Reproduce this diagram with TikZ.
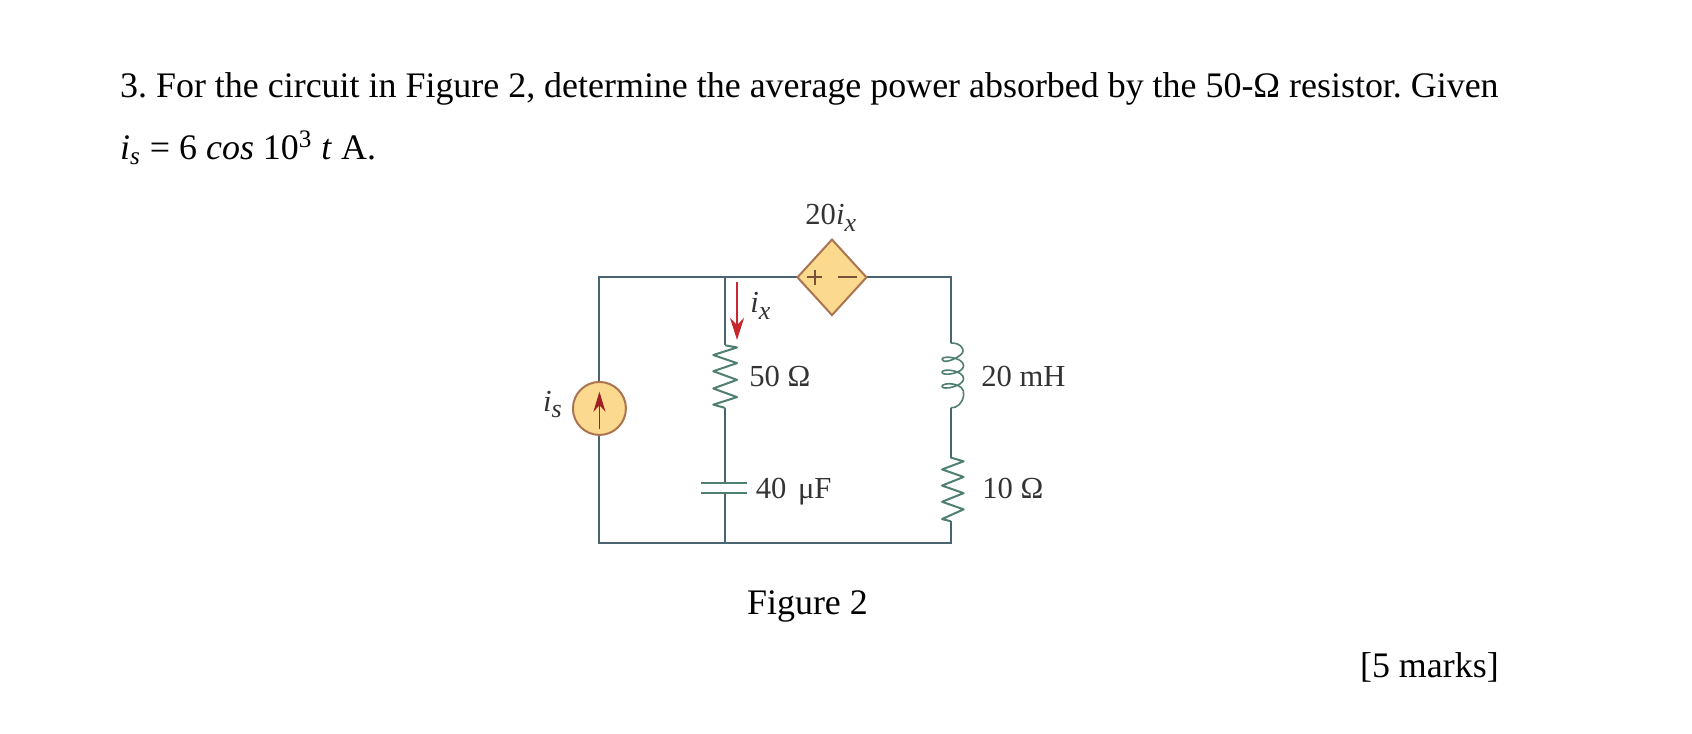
\documentclass[tikz,border=0pt]{standalone}
\usepackage{fontspec}
\setmainfont{Liberation Serif}
\usetikzlibrary{arrows.meta}
\newcommand{\txt}[1]{\fontsize{#1}{#1}\selectfont\frenchspacing}
\newcommand{\subit}[1]{\raisebox{-0.45ex}{\scalebox{0.85}{\textit{#1}}}}
\definecolor{wirecol}{HTML}{4A6472}
\definecolor{labcol}{HTML}{333333}
\definecolor{elemcol}{HTML}{4F7F72}
\definecolor{fillcol}{HTML}{FBD98F}
\definecolor{edgecol}{HTML}{A9744F}
\definecolor{arrowred}{HTML}{C8262C}
\tikzset{
  wire/.style={draw=wirecol,line width=1pt},
  elem/.style={draw=elemcol,line width=1pt,line join=round},
  lbl/.style={inner sep=0pt,text=labcol,anchor=base west},
  main/.style={inner sep=0pt,anchor=base west,text=black},
  term/.style={inner sep=0pt,minimum size=0pt}
}
\begin{document}
\begin{tikzpicture}[x=0.5395pt,y=-0.5395pt]
\useasboundingbox (0,0) rectangle (1568,679.3);
\node[main] (line1) at (111,90) {\txt{17.96pt}3. For the circuit in Figure 2, determine the average power absorbed by the 50-Ω resistor. Given};
\node[main] (line2) at (111,148) {\txt{17.96pt}\textit{i\textsubscript{s}} = 6 \textit{cos} 10\textsuperscript{3} \textit{t} A.};
\node[main] (fig) at (692,569) {\txt{17.96pt}Figure 2};
\node[main] (marks) at (1260,628) {\txt{17.96pt}[5 marks]};

\coordinate (tl) at (555,257);
\coordinate (tr) at (881,257);
\coordinate (bl) at (555,503);
\coordinate (br) at (881,503);
\coordinate (mt) at (672,257);
\coordinate (mb) at (672,503);
\node[term] (src) at (555,378.5) {};
\node[term] (dep) at (771,257) {};
\draw[wire] (src) -- (tl) -- (dep);
\draw[wire] (dep) -- (tr) -- (881,318);
\draw[wire] (src) -- (bl) -- (br) -- (881,483);
\draw[wire] (881,378) -- (881,424);
% middle branch
\draw[wire] (mt) -- (672,320);
\draw[wire] (672,378) -- (672,448);
\draw[wire] (672,457) -- (mb);
% 50 ohm
\draw[elem] (672,320) -- (683,322) -- (661,329) -- (683,336.5) -- (661,344) -- (683,352) -- (661,360) -- (683,368) -- (661,375) -- (672,378);
% capacitor
\draw[elem] (650,448) -- (692,448);
\draw[elem] (650,457) -- (692,457);
% inductor
\draw[elem,line width=0.8pt] (881,318) .. controls (890,317) and (896,325) .. (890,329) .. controls (884,334) and (873,337) .. (873,333)
 .. controls (873,329) and (893,331) .. (893,339) .. controls (893,346) and (873,349) .. (873,345)
 .. controls (873,341) and (893,343) .. (893,351) .. controls (893,358) and (873,362) .. (873,358)
 .. controls (873,354) and (895,354) .. (893,366) .. controls (892,374) and (887,378) .. (881,378);
% 10 ohm
\draw[elem] (881,424) -- (893,427.5) -- (873,435) -- (893,442) -- (873,450) -- (893,457) -- (873,465) -- (893,472) -- (873,481) -- (881,483);
% sources
\node[circle,draw=edgecol,fill=fillcol,line width=1pt,inner sep=0pt,minimum size=26.5pt] (srcc) at (555.5,378.5) {};
\draw[arrowred!80!black,line width=0.9pt,-{Stealth[length=10pt,width=6pt]}] (555.5,398) -- (555.5,363);
\draw[draw=edgecol,fill=fillcol,line width=1pt] (771,222) -- (803,257) -- (771,292) -- (739,257) -- cycle;
\draw[edgecol!70!black,line width=0.9pt] (748,257) -- (762,257) (755,250) -- (755,264) (777,257) -- (794,257);
% current arrow
\draw[arrowred,line width=0.9pt,-{Stealth[length=11pt,width=7pt]}] (683,261) -- (683,315);
% labels
\node[lbl] (lab20) at (746,208.5) {\txt{15.3pt}20\textit{i}\subit{x}};
\node[lbl] (labix) at (695,290) {\txt{15.3pt}\textit{i}\subit{x}};
\node[lbl] (labis) at (503,381) {\txt{15.3pt}\textit{i}\subit{s}};
\node[lbl] (lab50) at (694,358) {\txt{15.3pt}50 Ω};
\node[lbl] (lab40) at (700,462) {\txt{15.3pt}40\hspace{2pt} μF};
\node[lbl] (lab20m) at (909,358) {\txt{15.3pt}20 mH};
\node[lbl] (lab10) at (910,462) {\txt{15.3pt}10 Ω};
\end{tikzpicture}
\end{document}
